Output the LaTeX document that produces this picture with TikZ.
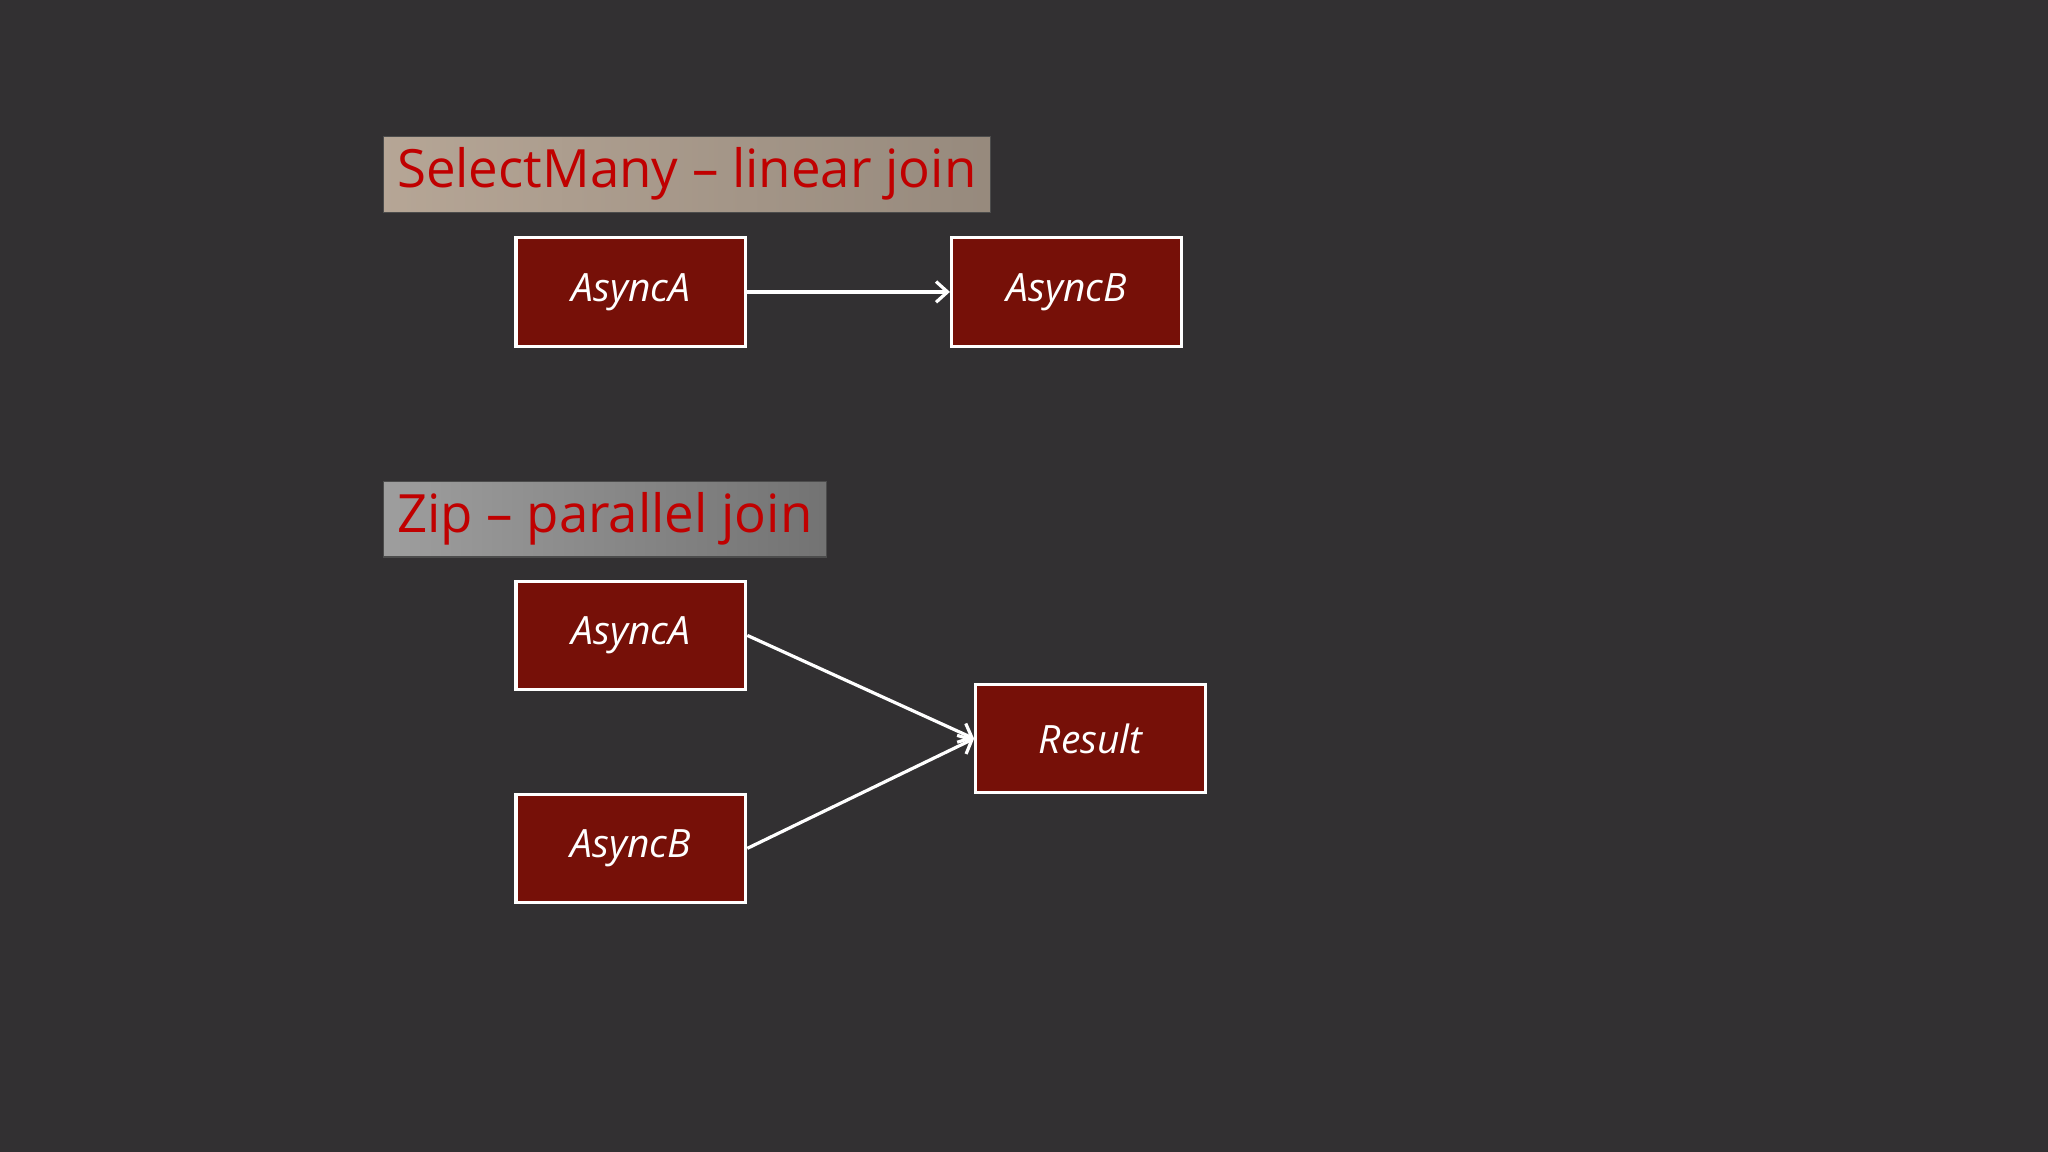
\documentclass[tikz,border=0pt]{standalone}
\usepackage{fontspec}
\setmainfont{Open Sans}
\definecolor{bg}{HTML}{323032}
\definecolor{boxred}{HTML}{761008}
\definecolor{titlered}{HTML}{C00000}
\begin{document}
\begin{tikzpicture}[x=0.02cm,y=-0.02cm,
  blk/.style={draw=white,line width=1.4pt,fill=boxred,minimum width=3.52cm,minimum height=1.66cm,text=white,font=\itshape\fontsize{17}{20}\selectfont,inner sep=0pt},
  ttl/.style={draw=black!70,line width=0.5pt,anchor=north west,text=titlered,font=\fontsize{23}{26}\selectfont,inner xsep=6pt,minimum height=1.16cm},
  conn/.style={draw=white,line width=1.4pt,-{Straight Barb[length=5pt,width=9pt]}}]
\usetikzlibrary{arrows.meta}
\fill[bg] (0,0) rectangle (1568,882);
\node[ttl,left color=black!30!white!75!brown,right color=black!45!white!80!brown,minimum width=8.78cm] (t1) at (293,104) {SelectMany -- linear join};
\node[ttl,left color=black!38,right color=black!55,minimum width=6.48cm] (t2) at (293,368) {Zip -- parallel join};
\node[blk] (a1) at (483,223.5) {AsyncA};
\node[blk] (b1) at (816.5,223.5) {AsyncB};
\node[blk] (a2) at (483,486.5) {AsyncA};
\node[blk] (b2) at (483,649.5) {AsyncB};
\node[blk] (r) at (835,565.5) {Result};
\draw[conn] (a1) -- (b1);
\draw[conn] (a2.east) -- (r.west);
\draw[conn] (b2.east) -- (r.west);
\end{tikzpicture}
\end{document}
